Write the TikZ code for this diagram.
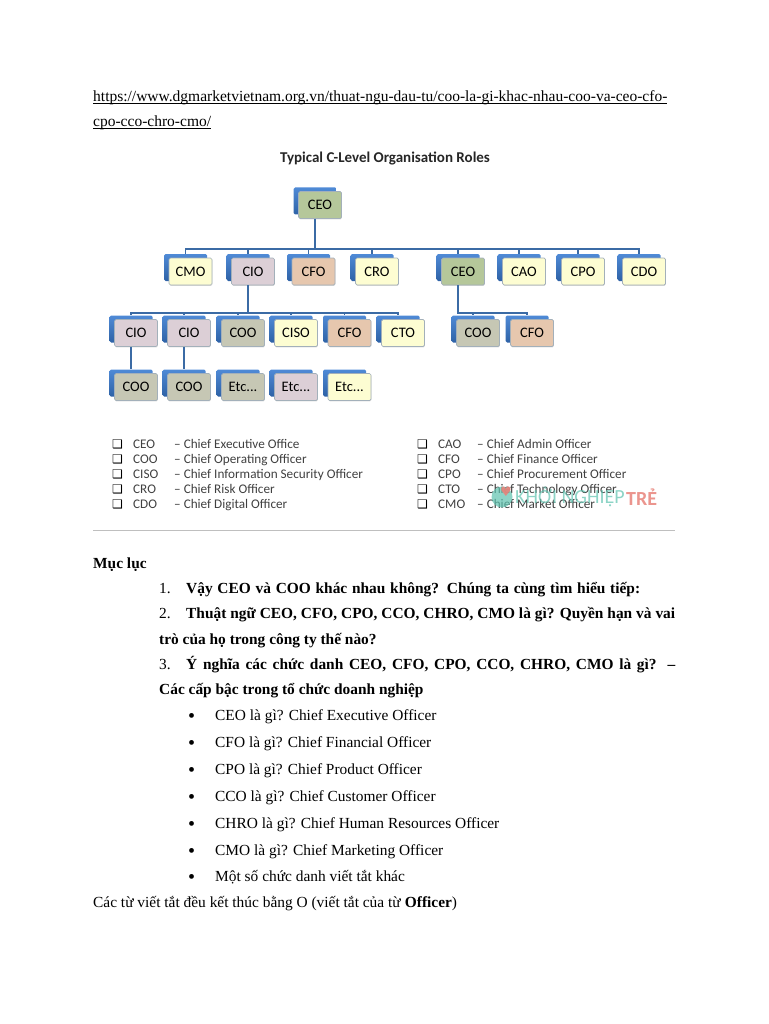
\documentclass[tikz,border=0pt]{standalone}
\usepackage{fontspec}
\setmainfont{Liberation Serif}
\newfontfamily\chartfont{Carlito}
\newfontfamily\symbolfont{DejaVu Sans}
\usetikzlibrary{calc,shadows}

\definecolor{busBlue}{HTML}{3B6BA5}
\definecolor{backTop}{HTML}{4F8AD6}
\definecolor{backBottom}{HTML}{2E62A6}
\definecolor{edgeGrey}{HTML}{A3B0BA}
\definecolor{roleGreen}{HTML}{B5C79A}
\definecolor{roleYellow}{HTML}{FDFDD2}
\definecolor{roleMauve}{HTML}{DCCFD6}
\definecolor{roleOrange}{HTML}{E6C7AE}
\definecolor{roleGrey}{HTML}{C6C7B4}
\definecolor{legendText}{HTML}{404040}
\definecolor{markTeal}{HTML}{5CC2AE}
\definecolor{markRed}{HTML}{E8837A}

\newcommand{\card}[5]{%
  \node [backCard] (#1Back) at (#3-5,#4-4) {};
  \node [frontCard,#2] (#1) at (#3,#4) {#5};
}

\begin{document}
\begin{tikzpicture}[x=1pt,y=-1pt]
  \tikzstyle{backCard} = [
    % The shape:
    rectangle, minimum height=27pt, minimum width=43pt, rounded corners=1.5pt,
    inner sep=0pt,
    % The filling:
    top color=backTop,
    bottom color=backBottom
  ];
  \tikzstyle{frontCard} = [
    % The shape:
    rectangle, minimum height=27pt, minimum width=43pt, rounded corners=1.5pt,
    inner sep=0pt,
    % The border:
    draw=edgeGrey, line width=0.7pt,
    drop shadow={shadow xshift=0.4pt, shadow yshift=-0.9pt, opacity=0.3},
    % Font:
    font=\chartfont\fontsize{14.5}{16}\selectfont, text=black
  ];
  \tikzstyle{green} = [fill=roleGreen];
  \tikzstyle{yellow} = [fill=roleYellow];
  \tikzstyle{mauve} = [fill=roleMauve];
  \tikzstyle{orange} = [fill=roleOrange];
  \tikzstyle{grey} = [fill=roleGrey];
  \tikzstyle{flow} = [
    draw = busBlue,
    line width=1.2pt
  ];
  \tikzstyle{bodyLine} = [
    % Just text!
    anchor=base west, inner sep=0pt,
    font=\fontsize{15.4}{18}\selectfont, text=black
  ];
  \tikzstyle{urlLine} = [
    anchor=base west, inner sep=0pt,
    font=\fontsize{15.5}{18}\selectfont, text=black
  ];
  \tikzstyle{bulletMark} = [
    anchor=base west, inner sep=0pt,
    font=\fontsize{20}{20}\selectfont, text=black
  ];
  \tikzstyle{legendEntry} = [
    anchor=base west, inner sep=0pt,
    font=\chartfont\fontsize{13.2}{15}\selectfont, text=legendText
  ];
  \tikzstyle{legendBox} = [
    anchor=base west, inner sep=0pt,
    font=\symbolfont\fontsize{12}{14}\selectfont, text=black
  ];

  \useasboundingbox (0,0) rectangle (768,1024);

  % Web address
  \node [urlLine] (urlFirst) at (93,101.5) {\underline{\smash{https://www.dgmarketvietnam.org.vn/thuat-ngu-dau-tu/coo-la-gi-khac-nhau-coo-va-ceo-cfo-}}};
  \node [urlLine] (urlSecond) at (93,126.5) {\underline{\smash{cpo-cco-chro-cmo/}}};

  \node [inner sep=0pt, font=\chartfont\bfseries\fontsize{15}{17}\selectfont, text=black!85] (chartTitle) at (385,158.5) {Typical C-Level Organisation Roles};

  % Top
  \card{ceoTop}{green}{320}{205}{CEO}

  % Second row
  \card{cmoMain}{yellow}{190.5}{271.5}{CMO}
  \card{cioMain}{mauve}{253}{271.5}{CIO}
  \card{cfoMain}{orange}{313.5}{271.5}{CFO}
  \card{croMain}{yellow}{377}{271.5}{CRO}
  \card{ceoSub}{green}{463}{271.5}{CEO}
  \card{caoMain}{yellow}{524}{271.5}{CAO}
  \card{cpoMain}{yellow}{583}{271.5}{CPO}
  \card{cdoMain}{yellow}{644}{271.5}{CDO}

  % Third row
  \card{cioLeft}{mauve}{136}{333}{CIO}
  \card{cioRight}{mauve}{189}{333}{CIO}
  \card{cooThird}{grey}{243}{333}{COO}
  \card{cisoThird}{yellow}{296}{333}{CISO}
  \card{cfoThird}{orange}{349.5}{333}{CFO}
  \card{ctoThird}{yellow}{403}{333}{CTO}
  \card{cooSub}{grey}{478}{333}{COO}
  \card{cfoSub}{orange}{532}{333}{CFO}

  % Fourth row
  \card{cooLeft}{grey}{136}{387}{COO}
  \card{cooRight}{grey}{189}{387}{COO}
  \card{etcGrey}{grey}{243}{387}{Etc...}
  \card{etcMauve}{mauve}{296}{387}{Etc...}
  \card{etcYellow}{yellow}{349.5}{387}{Etc...}

  \coordinate (busTop) at (0,249);
  \coordinate (busMid) at (0,313);

  \path [flow] (ceoTopBack |- ceoTop.south) to (ceoTopBack |- busTop) -| (cmoMainBack.north);
  \path [flow] (ceoTopBack |- busTop) -| (cioMainBack.north);
  \path [flow] (ceoTopBack |- busTop) -| (cfoMainBack.north);
  \path [flow] (ceoTopBack |- busTop) -| (croMainBack.north);
  \path [flow] (ceoTopBack |- busTop) -| (ceoSubBack.north);
  \path [flow] (ceoTopBack |- busTop) -| (caoMainBack.north);
  \path [flow] (ceoTopBack |- busTop) -| (cpoMainBack.north);
  \path [flow] (ceoTopBack |- busTop) -| (cdoMainBack.north);

  \path [flow] (cioMainBack |- cioMain.south) to (cioMainBack |- busMid) -| (cioLeftBack.north);
  \path [flow] (cioMainBack |- busMid) -| (cioRightBack.north);
  \path [flow] (cioMainBack |- busMid) -| (cooThirdBack.north);
  \path [flow] (cioMainBack |- busMid) -| (cisoThirdBack.north);
  \path [flow] (cioMainBack |- busMid) -| (cfoThirdBack.north);
  \path [flow] (cioMainBack |- busMid) -| (ctoThirdBack.north);

  \path [flow] (ceoSubBack |- ceoSub.south) to (ceoSubBack |- busMid) -| (cooSubBack.north);
  \path [flow] (ceoSubBack |- busMid) -| (cfoSubBack.north);

  \path [flow] (cioLeftBack |- cioLeft.south) to (cooLeftBack.north);
  \path [flow] (cioRightBack |- cioRight.south) to (cooRightBack.north);

  % Legend, left column
  \node [legendBox] (boxCeo) at (112,448.5) {❑};
  \node [legendBox] (boxCoo) at (112,463.5) {❑};
  \node [legendBox] (boxCiso) at (112,478.5) {❑};
  \node [legendBox] (boxCro) at (112,493.5) {❑};
  \node [legendBox] (boxCdo) at (112,508.5) {❑};
  \node [legendEntry] (keyCeo) at (133,448.5) {CEO};
  \node [legendEntry] (keyCoo) at (133,463.5) {COO};
  \node [legendEntry] (keyCiso) at (133,478.5) {CISO};
  \node [legendEntry] (keyCro) at (133,493.5) {CRO};
  \node [legendEntry] (keyCdo) at (133,508.5) {CDO};
  \node [legendEntry] (nameCeo) at (174,448.5) {– Chief Executive Office};
  \node [legendEntry] (nameCoo) at (174,463.5) {– Chief Operating Officer};
  \node [legendEntry] (nameCiso) at (174,478.5) {– Chief Information Security Officer};
  \node [legendEntry] (nameCro) at (174,493.5) {– Chief Risk Officer};
  \node [legendEntry] (nameCdo) at (174,508.5) {– Chief Digital Officer};

  % Legend, right column
  \node [legendBox] (boxCao) at (417,448.5) {❑};
  \node [legendBox] (boxCfo) at (417,463.5) {❑};
  \node [legendBox] (boxCpo) at (417,478.5) {❑};
  \node [legendBox] (boxCto) at (417,493.5) {❑};
  \node [legendBox] (boxCmo) at (417,508.5) {❑};
  \node [legendEntry] (keyCao) at (438,448.5) {CAO};
  \node [legendEntry] (keyCfo) at (438,463.5) {CFO};
  \node [legendEntry] (keyCpo) at (438,478.5) {CPO};
  \node [legendEntry] (keyCto) at (438,493.5) {CTO};
  \node [legendEntry] (keyCmo) at (438,508.5) {CMO};
  \node [legendEntry] (nameCao) at (477,448.5) {– Chief Admin Officer};
  \node [legendEntry] (nameCfo) at (477,463.5) {– Chief Finance Officer};
  \node [legendEntry] (namePpo) at (477,478.5) {– Chief Procurement Officer};
  \node [legendEntry] (nameCto) at (477,493.5) {– Chief Technology Officer};
  \node [legendEntry] (nameCmo) at (477,508.5) {– Chief Market Officer};

  % Watermark
  \node [circle, fill=markTeal, opacity=0.7, minimum size=21pt, inner sep=0pt] (markDot) at (502,497) {};
  \node [inner sep=0pt, font=\symbolfont\fontsize{13}{14}\selectfont, text=markRed, opacity=0.9] (markHeart) at (506,492) {♥};
  \node [anchor=west, inner sep=0pt, font=\chartfont\fontsize{20}{22}\selectfont, text=markTeal, opacity=0.7] (markName) at (515,497) {KHỞI NGHIỆP};
  \node [anchor=west, inner sep=0pt, font=\chartfont\bfseries\fontsize{20}{22}\selectfont, text=markRed, opacity=0.85] (markYoung) at (626,497) {TRẺ};

  % Rule
  \coordinate (ruleLeft) at (93,530);
  \coordinate (ruleRight) at (675,530);
  \draw [black!25, line width=0.8pt] (ruleLeft) -- (ruleRight);

  % Contents
  \node [bodyLine] (tocTitle) at (93,568) {\bfseries Mục lục};
  \node [bodyLine] (numOne) at (159,593) {1.};
  \node [bodyLine] (lineOne) at (186,593) {\makebox[454pt][s]{\bfseries Vậy CEO và COO khác nhau không? Chúng ta cùng tìm hiểu tiếp:}};
  \node [bodyLine] (numTwo) at (159,618) {2.};
  \node [bodyLine] (lineTwo) at (186,618) {\makebox[489pt][s]{\bfseries Thuật ngữ CEO, CFO, CPO, CCO, CHRO, CMO là gì? Quyền hạn và vai}};
  \node [bodyLine] (lineTwoMore) at (159,644) {\bfseries trò của họ trong công ty thế nào?};
  \node [bodyLine] (numThree) at (159,669) {3.};
  \node [bodyLine] (lineThree) at (186,669) {\makebox[489pt][s]{\bfseries Ý nghĩa các chức danh CEO, CFO, CPO, CCO, CHRO, CMO là gì? –}};
  \node [bodyLine] (lineThreeMore) at (159,694) {\bfseries Các cấp bậc trong tổ chức doanh nghiệp};

  \node [bulletMark] (dotCeo) at (188,722) {•};
  \node [bulletMark] (dotCfo) at (188,749) {•};
  \node [bulletMark] (dotCpo) at (188,776) {•};
  \node [bulletMark] (dotCco) at (188,803) {•};
  \node [bulletMark] (dotChro) at (188,830) {•};
  \node [bulletMark] (dotCmo) at (188,857) {•};
  \node [bulletMark] (dotOther) at (188,883) {•};
  \node [bodyLine] (itemCeo) at (215,720) {CEO là gì? Chief Executive Officer};
  \node [bodyLine] (itemCfo) at (215,747) {CFO là gì? Chief Financial Officer};
  \node [bodyLine] (itemCpo) at (215,774) {CPO là gì? Chief Product Officer};
  \node [bodyLine] (itemCco) at (215,801) {CCO là gì? Chief Customer Officer};
  \node [bodyLine] (itemChro) at (215,828) {CHRO là gì? Chief Human Resources Officer};
  \node [bodyLine] (itemCmo) at (215,855) {CMO là gì? Chief Marketing Officer};
  \node [bodyLine] (itemOther) at (215,881) {Một số chức danh viết tắt khác};

  \node [bodyLine] (closingLine) at (93,907) {Các từ viết tắt đều kết thúc bằng O (viết tắt của từ \textbf{Officer})};
\end{tikzpicture}
\end{document}
